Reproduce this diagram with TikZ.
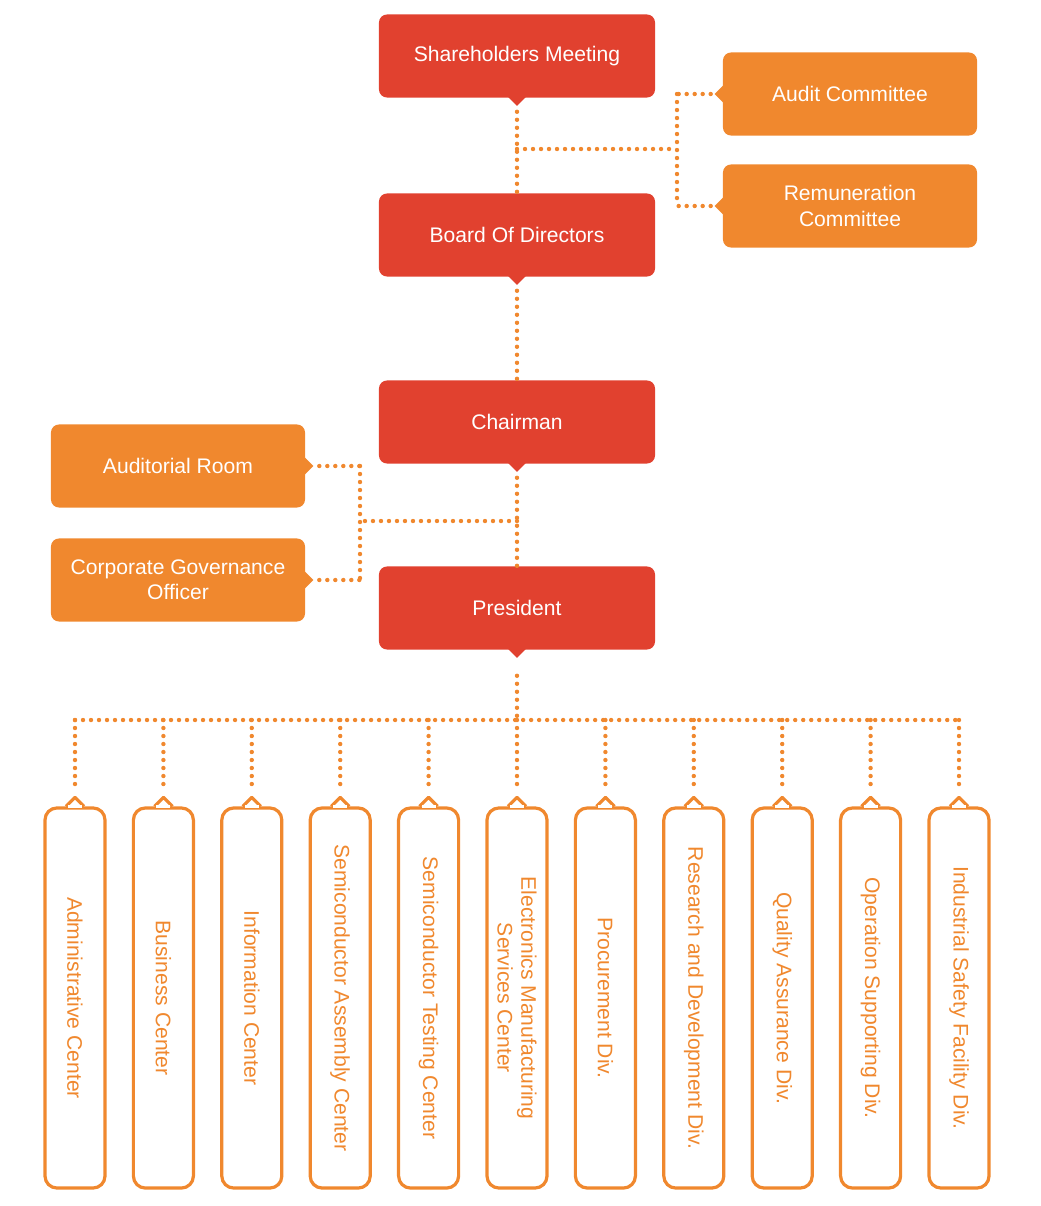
\documentclass[tikz,border=0pt]{standalone}
\usepackage{fontspec}
\setmainfont{Liberation Sans}
\usetikzlibrary{positioning,calc}
\definecolor{redc}{HTML}{E1412F}
\definecolor{orangec}{HTML}{F0882E}
\tikzset{
  redbox/.style={fill=redc, text=white, rounded corners=2mm, minimum width=6.9cm, minimum height=2.075cm, align=center, font=\fontsize{15}{18}\selectfont},
  orbox/.style={fill=orangec, text=white, rounded corners=2mm, minimum width=6.35cm, minimum height=2.075cm, align=center, font=\fontsize{15}{18}\selectfont},
  divbox/.style={draw=orangec, line width=0.8mm, text=orangec, fill=white, rounded corners=3mm, rotate=-90, minimum width=9.5cm, minimum height=1.5cm, align=center, font=\fontsize{15}{17}\selectfont},
  conn/.style={draw=orangec, line width=1.1mm, line cap=round, dash pattern=on 0pt off 2mm},
}
\begin{document}
\begin{tikzpicture}[x=0.025cm, y=-0.025cm]
  \useasboundingbox (0,0) rectangle (1041,1206);
  % red boxes
  \node (sm) [redbox] at (517,56) {Shareholders Meeting};
  \node (bd) [redbox] at (517,235) {Board Of Directors};
  \node (ch) [redbox] at (517,422) {Chairman};
  \node (pr) [redbox] at (517,608) {President};
  \foreach \n in {sm,bd,ch,pr}
    \fill[redc] ($(\n.south)+(-9,-1)$) -- ++(9,9) -- ++(9,-9) -- cycle;
  % orange boxes
  \node (ac) [orbox] at (850,94) {Audit Committee};
  \node (rc) [orbox] at (850,206) {Remuneration\\Committee};
  \node (ar) [orbox] at (178,466) {Auditorial Room};
  \node (cg) [orbox] at (178,580) {Corporate Governance\\Officer};
  \foreach \n in {ac,rc}
    \fill[orangec] ($(\n.west)+(1,-9)$) -- ++(-9,9) -- ++(9,9) -- cycle;
  \foreach \n in {ar,cg}
    \fill[orangec] ($(\n.east)+(-1,-9)$) -- ++(9,9) -- ++(-9,9) -- cycle;
  % connectors top
  \coordinate (j1) at (517,149);
  \coordinate (j2) at (677,149);
  \path[conn] (sm.south) ++(0,14) -- (bd.north);
  \path[conn] (j1) -- (j2);
  \path[conn] (j2 |- ac.west) -- (j2 |- rc.west);
  \path[conn] ($(ac.west)+(-12,0)$) -- (j2 |- ac.west);
  \path[conn] ($(rc.west)+(-12,0)$) -- (j2 |- rc.west);
  \path[conn] (bd.south) ++(0,14) -- (ch.north);
  % connectors middle
  \coordinate (j3) at (517,521);
  \coordinate (j4) at (360,521);
  \path[conn] (ch.south) ++(0,14) -- (pr.north);
  \path[conn] (j3) -- (j4);
  \path[conn] (j4 |- ar.east) -- (j4 |- cg.east);
  \path[conn] ($(ar.east)+(14,0)$) -- (j4 |- ar.east);
  \path[conn] ($(cg.east)+(14,0)$) -- (j4 |- cg.east);
  % divisions
  \coordinate (bus) at (517,720);
  \path[conn] (pr.south) ++(0,26) -- (bus);
  \path[conn] (75,720) -- (959,720);
  \foreach \t [count=\i] in {Administrative Center, Business Center, Information Center,
      Semiconductor Assembly Center, Semiconductor Testing Center,
      {Electronics Manufacturing\\Services Center}, Procurement Div.,
      Research and Development Div., Quality Assurance Div.,
      Operation Supporting Div., Industrial Safety Facility Div.} {
    \node (d\i) [divbox] at ({75+(\i-1)*88.4},998) {\t};
    \filldraw[fill=white, draw=orangec, line width=0.8mm, line join=round]
      ($(d\i.west)+(-9,0)$) -- ++(9,-9) -- ++(9,9);
    \fill[white] ($(d\i.west)+(-7,1.2)$) rectangle ($(d\i.west)+(7,-1)$);
    \path[conn] (d\i.west |- bus) -- ($(d\i.west)+(0,-18)$);
  }
\end{tikzpicture}
\end{document}
